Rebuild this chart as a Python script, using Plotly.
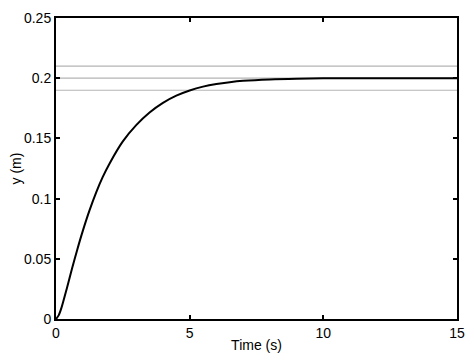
import plotly.graph_objects as go

time_s = [0, 0.1, 0.2, 0.4, 0.6, 0.8, 1.0, 1.25, 1.5, 1.75, 2.0, 2.5, 3.0, 3.5,
          4.0, 4.5, 5.0, 5.5, 6.0, 6.5, 7.0, 8.0, 9.0, 10, 11, 12, 13, 14, 15]
y_m = [0, 0.003, 0.009, 0.025, 0.042, 0.058, 0.073, 0.090, 0.105, 0.118, 0.129,
       0.1475, 0.161, 0.1715, 0.1795, 0.1855, 0.1898, 0.193, 0.1952, 0.1967, 0.1978,
       0.199, 0.1996, 0.1999, 0.2, 0.2, 0.2, 0.2, 0.2]
ref_levels = [0.19, 0.20, 0.21]
x_ticks = [0, 5, 10, 15]
y_ticks = [0, 0.05, 0.1, 0.15, 0.2, 0.25]
y_tick_text = ["0", "0.05", "0.1", "0.15", "0.2", "0.25"]

FONT = "Liberation Sans, Arial"

fig = go.Figure()
for lv in ref_levels:
    fig.add_trace(go.Scatter(x=[0, 15], y=[lv, lv], mode="lines",
                             line=dict(color="#b4b4b4", width=1.2),
                             showlegend=False, hoverinfo="skip"))
fig.add_trace(go.Scatter(x=time_s, y=y_m, mode="lines",
                         line=dict(color="black", width=2, shape="spline", smoothing=0.8),
                         showlegend=False))

axis_common = dict(showline=True, linecolor="black", linewidth=2, mirror="ticks",
                   ticks="inside", ticklen=4, tickwidth=1.5, tickcolor="black",
                   showgrid=False, zeroline=False, automargin=False,
                   tickfont=dict(family=FONT, size=14, color="black"))

fig.update_layout(
    width=466, height=353,
    margin=dict(l=48, r=17, t=10, b=42),
    paper_bgcolor="white", plot_bgcolor="white",
    xaxis=dict(range=[0, 15], tickvals=x_ticks,
               title=dict(text="Time (s)", font=dict(family=FONT, size=14, color="black"), standoff=0),
               **axis_common),
    yaxis=dict(range=[0, 0.25], tickvals=y_ticks, ticktext=y_tick_text,
               title=dict(text="y (m)", font=dict(family=FONT, size=14, color="black"), standoff=2),
               **axis_common),
)

fig.write_html("out.html")
